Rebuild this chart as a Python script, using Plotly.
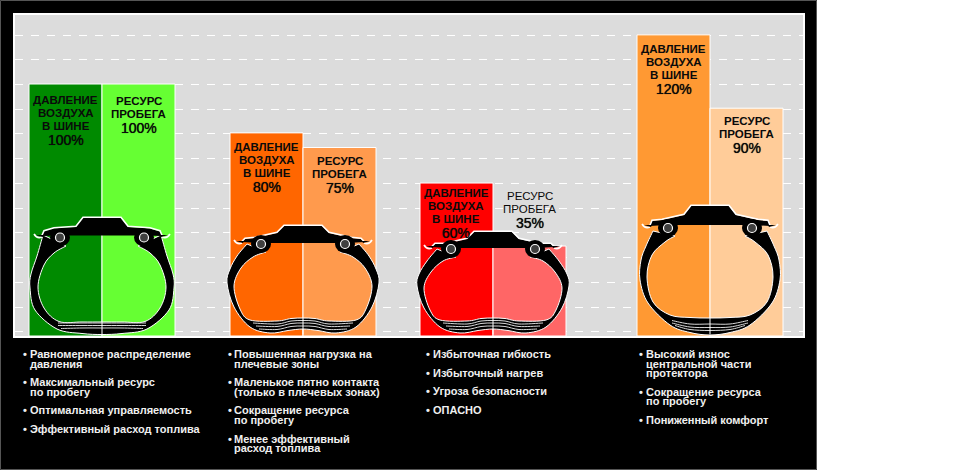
import plotly.graph_objects as go

# ---------- data ----------
PRESSURE = [100, 80.6, 60.7, 119.5]
MILEAGE = [100, 74.8, 35.7, 90.4]
PRESSURE_TEXT = ["100%", "80%", "60%", "120%"]
MILEAGE_TEXT = ["100%", "75%", "35%", "90%"]
PRESSURE_COLORS = ["#008a00", "#ff6600", "#ff0000", "#ff9933"]
MILEAGE_COLORS = ["#66ff33", "#ff9a4d", "#ff6666", "#ffcc99"]
PRESSURE_LABEL = ["ДАВЛЕНИЕ", "ВОЗДУХА", "В ШИНЕ"]
MILEAGE_LABEL = ["РЕСУРС", "ПРОБЕГА"]
BULLETS = [
    [["Равномерное распределение", "давления"], ["Максимальный ресурс", "по пробегу"],
     ["Оптимальная управляемость"], ["Эффективный расход топлива"]],
    [["Повышенная нагрузка на", "плечевые зоны"], ["Маленькое пятно контакта", "(только в плечевых зонах)"],
     ["Сокращение ресурса", "по пробегу"], ["Менее эффективный", "расход топлива"]],
    [["Избыточная гибкость"], ["Избыточный нагрев"], ["Угроза безопасности"], ["ОПАСНО"]],
    [["Высокий износ", "центральной части", "протектора"], ["Сокращение ресурса", "по пробегу"],
     ["Пониженный комфорт"]],
]

# ---------- layout constants ----------
W, H = 960, 470
L, T, R, BOT = 15, 15, 803, 336
PX_PER_UNIT = 2.52
GROUP_X = [102, 303, 493, 710]
BAR_W = 73
BULLET_X = [23, 228, 426, 639]
TEXT_X = [30, 234, 433, 646]
P_LABEL_Y = [100, 147, 193, 49]
M_LABEL_Y = [101, 161, 196, 121]
FONT = "Liberation Sans"


def px(x):
    return (x - L) / (R - L)


def py(y):
    return (BOT - y) / (BOT - T)


def spline(points):
    """Catmull-Rom through the points, as SVG cubic segments."""
    out = []
    n = len(points)
    for i in range(n - 1):
        p0 = points[max(i - 1, 0)]
        p1 = points[i]
        p2 = points[i + 1]
        p3 = points[min(i + 2, n - 1)]
        c1 = (p1[0] + (p2[0] - p0[0]) / 6, p1[1] + (p2[1] - p0[1]) / 6)
        c2 = (p2[0] - (p3[0] - p1[0]) / 6, p2[1] - (p3[1] - p1[1]) / 6)
        out.append(f"C{c1[0]:.1f},{c1[1]:.1f} {c2[0]:.1f},{c2[1]:.1f} {p2[0]:.1f},{p2[1]:.1f}")
    return " ".join(out)


def mirror(points):
    return points + [(-x, y) for x, y in reversed(points[:-1])]


PROFILE_NORMAL = dict(
    top=118, base=109, flange=107.5, rim=102.5, bead=(42, 98.5), tip=(68, 101),
    outer=[(-59, 101), (-65, 80), (-71, 62), (-72, 48), (-67, 26), (-45, 7), (-20, 2.5), (0, 1.5)],
    inner=[(-36, 90), (-48, 83), (-58, 71), (-64, 49), (-58, 28), (-43, 14.5), (-20, 14), (0, 14)],
    tread=[[(-44, 13), (-20, 13), (0, 13)], [(-44, 10.5), (-20, 10.5), (0, 10.5)], [(-41, 7.5), (-20, 8), (0, 8)]],
)
PROFILE_LOW = dict(
    top=110, base=103, flange=98, rim=95, bead=(42, 92), tip=(69, 95),
    outer=[(-56, 92), (-66, 80), (-73, 67), (-76, 53), (-69, 29), (-53, 9), (-33, 3), (-15, 5.5), (0, 7)],
    inner=[(-37, 84), (-50, 79), (-62, 68), (-69, 50), (-63, 27), (-53, 16), (-26, 15), (-12, 17.5), (0, 18)],
    tread=[[(-50, 13), (-26, 12), (-12, 15), (0, 15.5)], [(-47, 10), (-26, 9.5), (-12, 12.5), (0, 13)],
           [(-44, 7), (-26, 6.5), (-12, 9.5), (0, 10)]],
)
PROFILE_LOWEST = dict(
    top=104, base=97, flange=92, rim=90, bead=(42, 87), tip=(69, 90),
    outer=[(-56, 87), (-66, 75), (-74, 62), (-76, 50), (-69, 28), (-53, 9), (-33, 3), (-15, 5.5), (0, 7)],
    inner=[(-37, 79), (-50, 75), (-62, 64), (-69, 48), (-63, 26), (-53, 16), (-26, 15), (-12, 17.5), (0, 18)],
    tread=PROFILE_LOW["tread"],
)
PROFILE_HIGH = dict(
    top=130, base=121, flange=116, rim=113, bead=(42, 108), tip=(68, 111),
    outer=[(-57, 105), (-64, 90), (-69, 76), (-70, 56), (-62, 33), (-40, 11), (-20, 3.5), (0, 1)],
    inner=[(-35, 100), (-45, 94), (-58, 81), (-63, 59), (-57, 34), (-40, 21), (-20, 18.5), (0, 18)],
    tread=[[(-38, 15.5), (-20, 12), (0, 12)], [(-38, 13), (-20, 9), (0, 8.5)], [(-35, 10.5), (-20, 6.5), (0, 5.5)]],
)
PROFILES = [PROFILE_NORMAL, PROFILE_LOW, PROFILE_LOWEST, PROFILE_HIGH]


def anchored(cx, **kw):
    return dict(xref="x", yref="y", xsizemode="pixel", ysizemode="pixel", xanchor=cx, yanchor=0,
                layer="above", **kw)


def tyre_shapes(cx, p):
    out = []
    # tyre carcass: outer contour, then back along the inner contour
    outer = mirror(p["outer"])
    inner = list(reversed(mirror(p["inner"])))
    d = (f"M{outer[0][0]},{outer[0][1]} {spline(outer)} "
         f"L{inner[0][0]},{inner[0][1]} {spline(inner)} Z")
    out.append(anchored(cx, type="path", path=d, fillcolor="black",
                        line=dict(color="white", width=1)))
    # tread grooves
    for line_pts in p["tread"]:
        pts = mirror(line_pts)
        d = f"M{pts[0][0]},{pts[0][1]} {spline(pts)}"
        out.append(anchored(cx, type="path", path=d,
                            line=dict(color="#d8d8d8", width=1)))
    # centre seam through the tread
    out.append(anchored(cx, type="path", path=f"M0,1.5 L0,{p['inner'][-1][1]}",
                        line=dict(color="white", width=1)))
    # rim with a white edge along its top
    tip_x, tip_y = p["tip"]
    half = [(-tip_x + 8, tip_y - 1), (-58, p["rim"] + 2), (-48, p["flange"]), (-26, p["base"]), (-19, p["top"])]
    right = [(-x, y) for x, y in reversed(half)]
    poly = half + right + [(44, p["rim"] - 2), (-44, p["rim"] - 2)]
    d = "M" + " L".join(f"{x},{y}" for x, y in poly) + " Z"
    out.append(anchored(cx, type="path", path=d, fillcolor="black",
                        line=dict(color="black", width=0)))
    d = "M" + " L".join(f"{x},{y + 0.8}" for x, y in half + right)
    out.append(anchored(cx, type="path", path=d, line=dict(color="white", width=1.6)))
    # beads and horns
    bx, by = p["bead"]
    for s in (-1, 1):
        out.append(anchored(cx, type="circle", x0=s * bx - 10, x1=s * bx + 10, y0=by - 9, y1=by + 9,
                            fillcolor="black", line=dict(color="black", width=0)))
        out.append(anchored(cx, type="circle", x0=s * bx - 4.5, x1=s * bx + 4.5, y0=by - 4.5, y1=by + 4.5,
                            fillcolor="#404040", line=dict(color="white", width=1.2)))
        d = f"M{s * tip_x},{tip_y + 1} Q{s * (tip_x - 3)},{tip_y - 4} {s * (tip_x - 8)},{tip_y - 2}"
        out.append(anchored(cx, type="path", path=d, line=dict(color="white", width=1.6)))
        d = f"M{s * (tip_x - 2)},{tip_y} L{s * (tip_x - 10)},{tip_y} L{s * (tip_x - 9)},{tip_y - 2} Z"
        out.append(anchored(cx, type="path", path=d, fillcolor="black", line=dict(width=0)))
    return out


fig = go.Figure()
fig.add_bar(x=[c - BAR_W / 2 for c in GROUP_X], y=PRESSURE, width=BAR_W, name="Давление воздуха в шине",
            marker=dict(color=PRESSURE_COLORS, line=dict(color="white", width=1)))
fig.add_bar(x=[c + BAR_W / 2 for c in GROUP_X], y=MILEAGE, width=BAR_W, name="Ресурс пробега",
            marker=dict(color=MILEAGE_COLORS, line=dict(color="white", width=1)))

shapes = [
    dict(type="rect", xref="paper", yref="paper", x0=px(817), x1=px(W), y0=py(-1), y1=py(H + 1),
         fillcolor="white", line=dict(width=0), layer="below"),
    dict(type="rect", xref="paper", yref="paper", x0=px(0.5), x1=px(816.5), y0=py(0.5), y1=py(469.5),
         fillcolor="rgba(0,0,0,0)", line=dict(color="#555555", width=1), layer="below"),
]
for cx, prof in zip(GROUP_X, PROFILES):
    shapes += tyre_shapes(cx, prof)

ann = []


def label(x, y, text, size, bold=False, color="#0a0a0a", anchor="center", shadow="none"):
    ann.append(dict(xref="paper", yref="paper", x=px(x), y=py(y), text=f"<b>{text}</b>" if bold else text,
                    showarrow=False, xanchor=anchor, yanchor="middle", align=anchor,
                    font=dict(family=FONT, size=size, color=color, shadow=shadow), borderpad=0, borderwidth=0))


PCT_SHADOW = "0 0 0.7px #000"
for i, c in enumerate(GROUP_X):
    cl = c - BAR_W / 2
    cr = c + BAR_W / 2
    y = P_LABEL_Y[i]
    for j, t in enumerate(PRESSURE_LABEL):
        label(cl, y + j * 13, t, 11.5, bold=True)
    label(cl, y + 40, PRESSURE_TEXT[i], 14, shadow=PCT_SHADOW)
    y = M_LABEL_Y[i]
    for j, t in enumerate(MILEAGE_LABEL):
        label(cr, y + j * 13, t, 11.5, bold=(i != 2))
    label(cr, y + 27, MILEAGE_TEXT[i], 14, shadow=PCT_SHADOW)

for col, items in enumerate(BULLETS):
    y = 354
    for item in items:
        label(BULLET_X[col], y, "•", 11, bold=True, color="#f0f0f0", anchor="left")
        for k, line in enumerate(item):
            label(TEXT_X[col], y, line, 11, bold=True, color="#f0f0f0", anchor="left")
            y += 9.5 if k < len(item) - 1 else 18.7

fig.update_layout(
    width=W, height=H, autosize=False, showlegend=False, barmode="overlay",
    paper_bgcolor="black", plot_bgcolor="#dcdcdc",
    margin=dict(l=L, r=W - R, t=T, b=H - BOT, pad=0),
    shapes=shapes, annotations=ann,
    xaxis=dict(range=[L, R], showgrid=False, zeroline=False, showticklabels=False, ticks="",
               showline=True, mirror=True, linecolor="white", linewidth=1.5),
    yaxis=dict(range=[0, (BOT - T) / PX_PER_UNIT], tickmode="linear", tick0=11.5, dtick=9.81,
               showgrid=True, gridcolor="white", gridwidth=1, griddash="8px,8px", zeroline=False,
               showticklabels=False, ticks="", showline=True, mirror=True, linecolor="white", linewidth=1.5),
)
fig.write_html("out.html", config=dict(displayModeBar=False),
               post_script="document.body.style.margin='0';document.documentElement.style.overflow='hidden';")
